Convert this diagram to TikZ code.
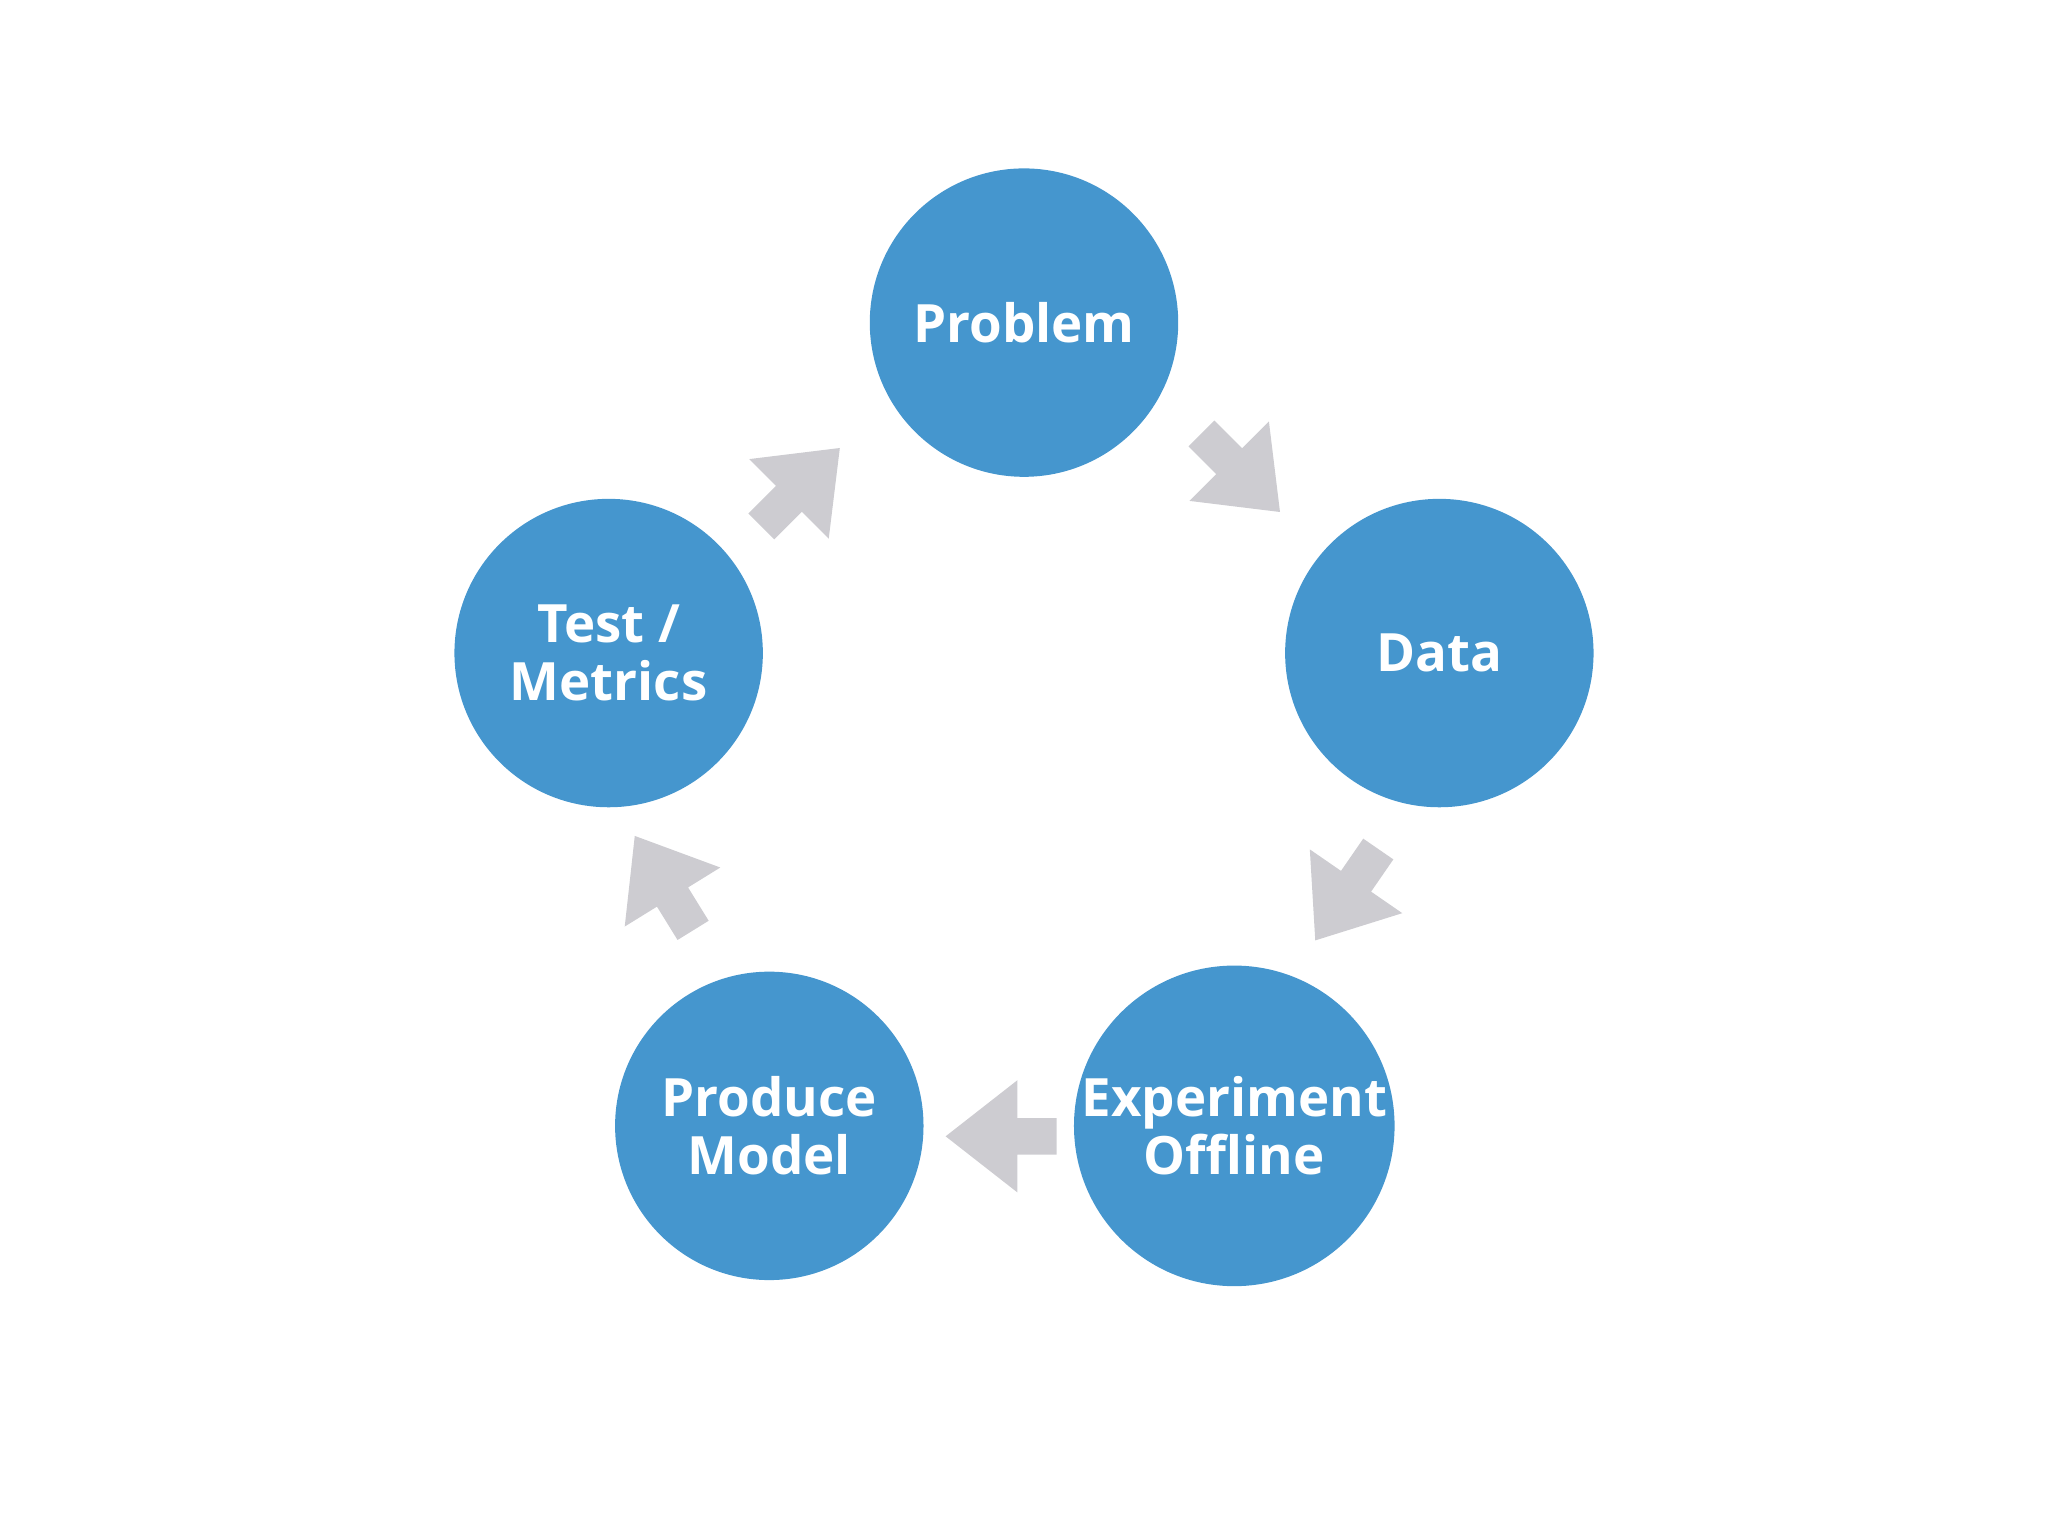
\documentclass[tikz,border=0pt]{standalone}
\usepackage{fontspec}
\setmainfont{Open Sans}
\definecolor{cblue}{RGB}{69,150,206}
\definecolor{agray}{RGB}{205,204,209}
\tikzset{
  stage/.style={circle,fill=cblue,minimum size=2.36cm,inner sep=0pt,text=white,align=center,font=\bfseries\fontsize{11.5}{12.5}\selectfont},
  blockarrow/.pic={\fill[agray] (0,0)--(-55,43)--(-55,14)--(-85,14)--(-85,-14)--(-55,-14)--(-55,-43)--cycle;}
}
\begin{document}
\begin{tikzpicture}[x=0.01cm,y=-0.01cm]
\useasboundingbox (0,0) rectangle (1568,1176);
\node[stage] (p) at (784,247) {Problem};
\node[stage] (d) at (1102,500) {Data};
\node[stage] (e) at (945,862) {Experiment\\Offline};
\node[stage] (m) at (589,862) {Produce\\Model};
\node[stage] (t) at (466,500) {Test /\\Metrics};
\pic[rotate=-45] at (980,392) {blockarrow};
\pic[rotate=-124.6] at (1007,720) {blockarrow};
\pic[rotate=180] at (724,870) {blockarrow};
\pic[rotate=121.7] at (486,640) {blockarrow};
\pic[rotate=45] at (643,343) {blockarrow};
\end{tikzpicture}
\end{document}
